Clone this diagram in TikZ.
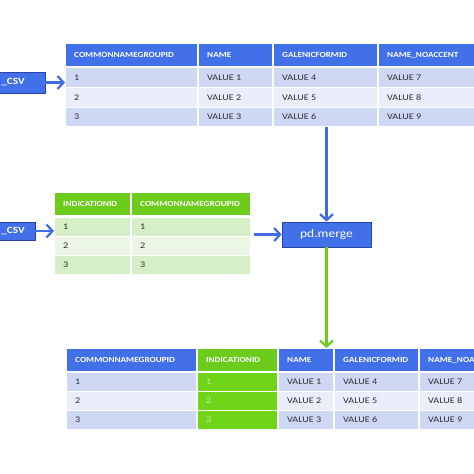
\documentclass[tikz,border=0pt]{standalone}
\usepackage{fontspec}
\usepackage{graphicx}
\setmainfont{Carlito}
\usetikzlibrary{arrows.meta}
\definecolor{hblue}{RGB}{66,112,232}
\definecolor{bdark}{RGB}{40,70,170}
\definecolor{arblue}{RGB}{62,108,228}
\definecolor{rowa}{RGB}{206,216,244}
\definecolor{rowb}{RGB}{233,238,250}
\definecolor{hgreen}{RGB}{108,204,28}
\definecolor{growa}{RGB}{214,239,200}
\definecolor{growb}{RGB}{235,247,228}
\definecolor{gcell}{RGB}{112,212,24}
\definecolor{gtext}{RGB}{200,240,170}
\definecolor{btext}{RGB}{45,45,50}
\newcommand\hs[1]{\scalebox{1.18}[1]{#1}}
% name, x1, y1, x2, y2, fill, text, text style
\newcommand\tcell[8]{%
  \path[fill=#6] (#2,#3) rectangle (#4,#5);
  \node[#8, anchor=west] (#1) at ({#2+8},{(#3+#5)/2}) {\hs{#7}};}
\tikzset{
  hd/.style={font=\fontsize{7.8}{8}\selectfont\bfseries, text=white, inner sep=0pt},
  bd/.style={font=\fontsize{8.6}{9}\selectfont, text=btext, inner sep=0pt},
  gd/.style={font=\fontsize{8.6}{9}\selectfont, text=gtext, inner sep=0pt},
  csvbox/.style={draw=bdark, line width=0.8pt, fill=hblue, text=white,
    font=\fontsize{9.5}{10}\selectfont\bfseries, inner sep=0pt},
  mergebox/.style={draw=bdark, line width=0.8pt, fill=hblue, text=white,
    font=\fontsize{11.5}{12}\selectfont, inner sep=0pt, minimum width=89pt, minimum height=25pt},
  barrow/.style={draw=arblue, line width=2.6pt, -{Straight Barb[length=6pt,width=13pt,line width=2.2pt]}},
  garrow/.style={draw=hgreen, line width=2.6pt, -{Straight Barb[length=6pt,width=13pt,line width=2.2pt]}},
}
\begin{document}
\begin{tikzpicture}[x=1pt,y=-1pt]
\useasboundingbox (0,0) rectangle (474,474);
\clip (0,0) rectangle (474,474);
\fill[white] (0,0) rectangle (474,474);

% ---------- top table ----------
\tcell{a11}{66}{44}{197}{66}{hblue}{COMMONNAMEGROUPID}{hd}
\tcell{a12}{199}{44}{272}{66}{hblue}{NAME}{hd}
\tcell{a13}{274}{44}{377}{66}{hblue}{GALENICFORMID}{hd}
\tcell{a14}{379}{44}{480}{66}{hblue}{NAME\_NOACCENT}{hd}

\tcell{a21}{66}{68}{197}{87}{rowa}{1}{bd}
\tcell{a22}{199}{68}{272}{87}{rowa}{VALUE 1}{bd}
\tcell{a23}{274}{68}{377}{87}{rowa}{VALUE 4}{bd}
\tcell{a24}{379}{68}{480}{87}{rowa}{VALUE 7}{bd}

\tcell{a31}{66}{88}{197}{107}{rowb}{2}{bd}
\tcell{a32}{199}{88}{272}{107}{rowb}{VALUE 2}{bd}
\tcell{a33}{274}{88}{377}{107}{rowb}{VALUE 5}{bd}
\tcell{a34}{379}{88}{480}{107}{rowb}{VALUE 8}{bd}

\tcell{a41}{66}{108}{197}{126}{rowa}{3}{bd}
\tcell{a42}{199}{108}{272}{126}{rowa}{VALUE 3}{bd}
\tcell{a43}{274}{108}{377}{126}{rowa}{VALUE 6}{bd}
\tcell{a44}{379}{108}{480}{126}{rowa}{VALUE 9}{bd}

% ---------- green table ----------
\tcell{b11}{55}{193}{130}{215}{hgreen}{INDICATIONID}{hd}
\tcell{b12}{132}{193}{250}{215}{hgreen}{COMMONNAMEGROUPID}{hd}

\tcell{b21}{55}{218}{130}{236}{growa}{1}{bd}
\tcell{b22}{132}{218}{250}{236}{growa}{1}{bd}
\tcell{b31}{55}{237}{130}{255}{growb}{2}{bd}
\tcell{b32}{132}{237}{250}{255}{growb}{2}{bd}
\tcell{b41}{55}{256}{130}{274}{growa}{3}{bd}
\tcell{b42}{132}{256}{250}{274}{growa}{3}{bd}

% ---------- bottom table ----------
\tcell{c11}{67}{349}{196}{371}{hblue}{COMMONNAMEGROUPID}{hd}
\tcell{c12}{198}{349}{277}{371}{hgreen}{INDICATIONID}{hd}
\tcell{c13}{279}{349}{333}{371}{hblue}{NAME}{hd}
\tcell{c14}{335}{349}{418}{371}{hblue}{GALENICFORMID}{hd}
\tcell{c15}{420}{349}{480}{371}{hblue}{NAME\_NOACCENT}{hd}

\tcell{c21}{67}{373}{196}{391}{rowa}{1}{bd}
\tcell{c22}{198}{373}{277}{391}{gcell}{1}{gd}
\tcell{c23}{279}{373}{333}{391}{rowa}{VALUE 1}{bd}
\tcell{c24}{335}{373}{418}{391}{rowa}{VALUE 4}{bd}
\tcell{c25}{420}{373}{480}{391}{rowa}{VALUE 7}{bd}

\tcell{c31}{67}{392}{196}{410}{rowb}{2}{bd}
\tcell{c32}{198}{392}{277}{410}{gcell}{2}{gd}
\tcell{c33}{279}{392}{333}{410}{rowb}{VALUE 2}{bd}
\tcell{c34}{335}{392}{418}{410}{rowb}{VALUE 5}{bd}
\tcell{c35}{420}{392}{480}{410}{rowb}{VALUE 8}{bd}

\tcell{c41}{67}{411}{196}{429}{rowa}{3}{bd}
\tcell{c42}{198}{411}{277}{429}{gcell}{3}{gd}
\tcell{c43}{279}{411}{333}{429}{rowa}{VALUE 3}{bd}
\tcell{c44}{335}{411}{418}{429}{rowa}{VALUE 6}{bd}
\tcell{c45}{420}{411}{480}{429}{rowa}{VALUE 9}{bd}

% ---------- boxes ----------
\node[csvbox, minimum width=64pt, minimum height=21pt] (csv1) at (13,82.5) {\hs{\_CSV}};
\node[csvbox, minimum width=44pt, minimum height=18pt] (csv2) at (13,231) {\hs{\_CSV}};
\node[mergebox] (merge) at (326.5,234.5) {\hs{pd.merge}};

% ---------- connector ends ----------
\coordinate (t1w) at (65,82.5);
\coordinate (t1b) at (326.5,127);
\coordinate (t2w) at (54,231);
\coordinate (t2e) at (254,234.5);
\coordinate (t3n) at (326.5,348);

% ---------- connectors ----------
\draw[barrow] (csv1.east) -- (t1w);
\draw[barrow] (csv2.east) -- (t2w);
\draw[barrow] (t1b) -- (merge.north);
\draw[barrow] (t2e) -- (merge.west);
\draw[garrow] (merge.south) -- (t3n);
\end{tikzpicture}
\end{document}
